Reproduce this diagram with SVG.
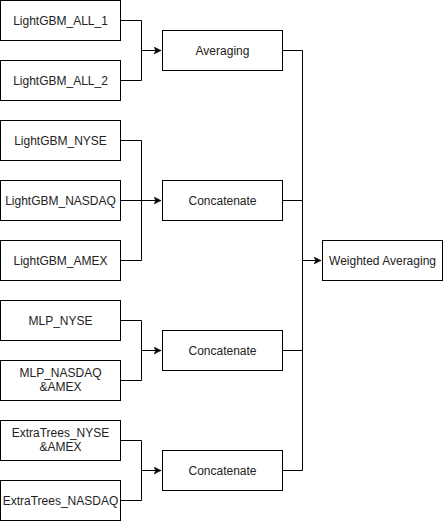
<svg xmlns="http://www.w3.org/2000/svg" width="443" height="521" viewBox="0 0 443 521">
<style>
.b{fill:#fff;stroke:#000;stroke-width:1}
.t{font-family:"Liberation Sans",Arial,sans-serif;font-size:12px;fill:#222;text-anchor:middle}
.c{fill:none;stroke:#000;stroke-width:1}
</style>
<defs>
<marker id="a" markerWidth="8" markerHeight="8" refX="7" refY="4" orient="auto" markerUnits="userSpaceOnUse">
<path d="M0,0.5 L7,4 L0,7.5 L1.8,4 Z" fill="#000" stroke="#000" stroke-width="0.5"/>
</marker>
</defs>
<rect width="443" height="521" fill="#fff"/>
<g id="connectors">
<path class="c" d="M120.5,20.5 H141.5 V50.5 M120.5,80.5 H141.5 V50.5"/>
<path class="c" d="M141.5,50.5 H161" marker-end="url(#a)"/>
<path class="c" d="M120.5,140.5 H141.5 V260.5 H120.5 M120.5,200.5 H141.5"/>
<path class="c" d="M141.5,200.5 H161" marker-end="url(#a)"/>
<path class="c" d="M120.5,320.5 H141.5 V380.5 H120.5"/>
<path class="c" d="M141.5,350.5 H161" marker-end="url(#a)"/>
<path class="c" d="M120.5,440.5 H141.5 V500.5 H120.5"/>
<path class="c" d="M141.5,470.5 H161" marker-end="url(#a)"/>
<path class="c" d="M282.5,50.5 H302.5 V470.5 H282.5 M282.5,200.5 H302.5 M282.5,350.5 H302.5"/>
<path class="c" d="M302.5,260.5 H321" marker-end="url(#a)"/>
</g>
<g id="n1"><rect class="b" x="0.5" y="0.5" width="120" height="40"/><text class="t" x="60.5" y="24.5">LightGBM_ALL_1</text></g>
<g id="n2"><rect class="b" x="0.5" y="60.5" width="120" height="40"/><text class="t" x="60.5" y="84.5">LightGBM_ALL_2</text></g>
<g id="n3"><rect class="b" x="0.5" y="120.5" width="120" height="40"/><text class="t" x="60.5" y="144.5">LightGBM_NYSE</text></g>
<g id="n4"><rect class="b" x="0.5" y="180.5" width="120" height="40"/><text class="t" x="60.5" y="204.5">LightGBM_NASDAQ</text></g>
<g id="n5"><rect class="b" x="0.5" y="240.5" width="120" height="40"/><text class="t" x="60.5" y="264.5">LightGBM_AMEX</text></g>
<g id="n6"><rect class="b" x="0.5" y="300.5" width="120" height="40"/><text class="t" x="60.5" y="324.5">MLP_NYSE</text></g>
<g id="n7"><rect class="b" x="0.5" y="360.5" width="120" height="40"/><text class="t" x="60.5" y="377">MLP_NASDAQ</text><text class="t" x="60.5" y="391">&amp;AMEX</text></g>
<g id="n8"><rect class="b" x="0.5" y="420.5" width="120" height="40"/><text class="t" x="60.5" y="437">ExtraTrees_NYSE</text><text class="t" x="60.5" y="451">&amp;AMEX</text></g>
<g id="n9"><rect class="b" x="0.5" y="480.5" width="120" height="40"/><text class="t" x="60.5" y="504.5">ExtraTrees_NASDAQ</text></g>
<g id="m1"><rect class="b" x="162.5" y="30.5" width="120" height="40"/><text class="t" x="222.5" y="54.5">Averaging</text></g>
<g id="m2"><rect class="b" x="162.5" y="180.5" width="120" height="40"/><text class="t" x="222.5" y="204.5">Concatenate</text></g>
<g id="m3"><rect class="b" x="162.5" y="330.5" width="120" height="40"/><text class="t" x="222.5" y="354.5">Concatenate</text></g>
<g id="m4"><rect class="b" x="162.5" y="450.5" width="120" height="40"/><text class="t" x="222.5" y="474.5">Concatenate</text></g>
<g id="w"><rect class="b" x="322.5" y="240.5" width="120" height="40"/><text class="t" x="382.5" y="264.5">Weighted Averaging</text></g>
</svg>
